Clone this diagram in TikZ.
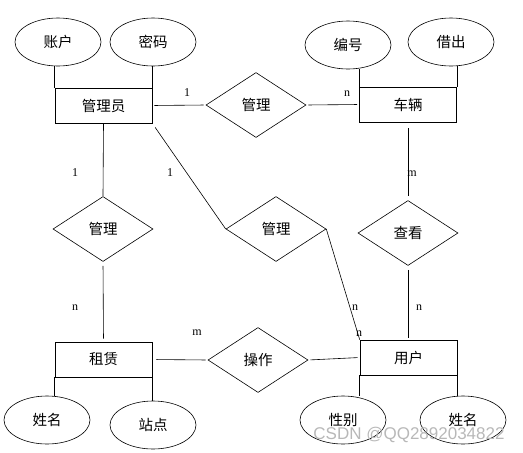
\documentclass[tikz,border=0pt]{standalone}
\usepackage{fontspec}
\setmainfont{Liberation Serif}
\newfontfamily\cjkfont{Noto Sans CJK SC}
\newfontfamily\markfont{Liberation Sans}
\usetikzlibrary{shapes.geometric}

\begin{document}
\begin{tikzpicture}[x=1pt, y=-1pt, line width=0.6pt,
	entity/.style={draw, minimum width=97pt, minimum height=35pt, inner sep=0pt, font=\cjkfont\fontsize{14.5}{16}\selectfont},
	attribute/.style={draw, ellipse, minimum width=86pt, minimum height=48pt, inner sep=0pt, font=\cjkfont\fontsize{14.5}{16}\selectfont},
	relation/.style={draw, diamond, minimum width=100pt, minimum height=65pt, inner sep=0pt, font=\cjkfont\fontsize{14.5}{16}\selectfont},
	card/.style={font=\fontsize{12}{14}\selectfont, inner sep=0pt}]

				\useasboundingbox (0,0) rectangle (523,453);

				\node[entity] (admin) at (103.5,105.5) {管理员};
				\node[entity] (vehicle) at (408,104.5) {车辆};
				\node[entity] (rental) at (103.5,359.5) {租赁};
				\node[entity] (user) at (408.5,357.5) {用户};

				\node[attribute] (account) at (58,42) {账户};
				\node[attribute] (password) at (153,42) {密码};
				\node[attribute] (number) at (348,45) {编号};
				\node[attribute] (lend) at (451,42) {借出};
				\node[attribute] (nameleft) at (47,420) {姓名};
				\node[attribute] (station) at (153,425) {站点};
				\node[attribute] (gender) at (343,420) {性别};
				\node[attribute] (nameright) at (463,420) {姓名};

				\node[relation] (managetop) at (256,105) {管理};
				\node[relation] (manageleft) at (103,229) {管理};
				\node[relation] (managemid) at (276,229) {管理};
				\node[relation] (view) at (408,233) {查看};
				\node[relation] (operate) at (258,360) {操作};

				% attributes
				\draw (admin.north west) -- (admin.north west |- account.south);
				\draw (admin.north east) -- (admin.north east |- password.south);
				\draw (vehicle.north west) -- (vehicle.north west |- number.south);
				\draw (vehicle.north east) -- (vehicle.north east |- lend.south);
				\draw (rental.south west) -- (rental.south west |- nameleft.north);
				\draw (rental.south east) -- (rental.south east |- station.north);
				\draw (user.south west) -- (user.south west |- gender.north);
				\draw (user.south east) -- (user.south east |- nameright.north);

				% relations
				\draw[shorten <=2pt, shorten >=2pt] (admin.east) -- (managetop.west);
				\draw[shorten <=2pt, shorten >=2pt] (managetop.east) -- (vehicle.west);
				\draw (admin.south) -- (manageleft.north);
				\draw[shorten <=4pt, shorten >=3pt] (manageleft.south) -- (rental.north);
				\draw[shorten <=5pt] (admin.south east) -- (managemid.west);
				\draw (managemid.east) -- (user.north west);
				\draw[shorten <=6pt, shorten >=4pt] (vehicle.south) -- (view.north);
				\draw[shorten <=4pt, shorten >=2pt] (view.south) -- (user.north -| view.south);
				\draw[shorten <=4pt, shorten >=2pt] (rental.east) -- (operate.west);
				\draw[shorten <=2pt, shorten >=2pt] (operate.east) -- (user.west);

				\node[card] (c1) at (187,93) {1};
				\node[card] (c2) at (347,94) {n};
				\node[card] (c3) at (75,173) {1};
				\node[card] (c4) at (170,173) {1};
				\node[card] (c5) at (412,174) {m};
				\node[card] (c6) at (75,308) {n};
				\node[card] (c7) at (197,333) {m};
				\node[card] (c8) at (355,308) {n};
				\node[card] (c9) at (359,334) {n};
				\node[card] (c10) at (419,308) {n};

				\node[font=\markfont\fontsize{17}{19}\selectfont, text=black!28, inner sep=0pt] (watermark) at (409,435) {CSDN @QQ2892034822};

			\end{tikzpicture}
\end{document}
